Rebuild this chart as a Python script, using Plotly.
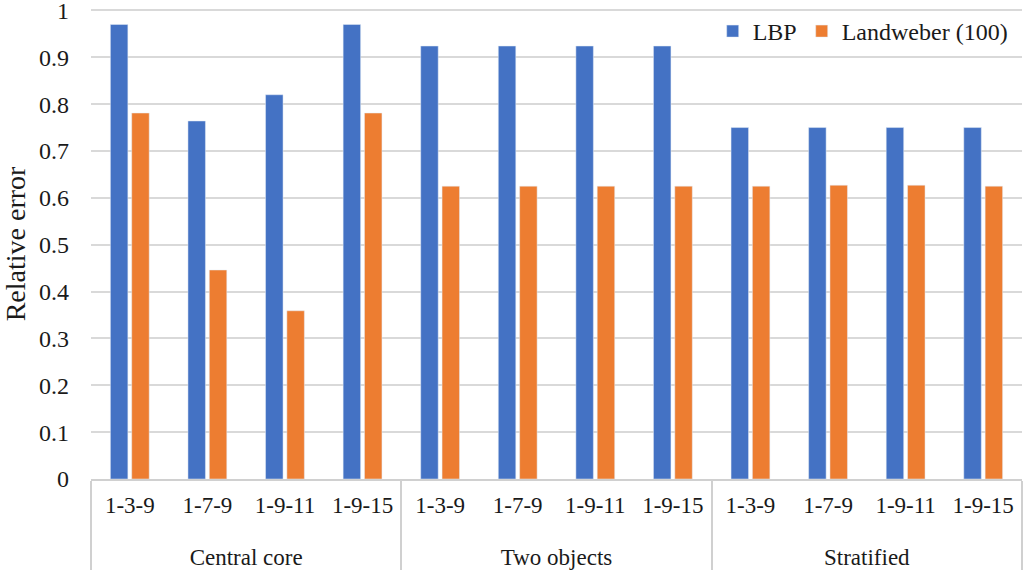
import plotly.graph_objects as go

groups = ["Central core"] * 4 + ["Two objects"] * 4 + ["Stratified"] * 4
configs = ["1-3-9", "1-7-9", "1-9-11", "1-9-15"] * 3

lbp = [0.970, 0.764, 0.820, 0.970,
       0.924, 0.924, 0.924, 0.924,
       0.750, 0.750, 0.750, 0.750]
landweber = [0.781, 0.446, 0.359, 0.781,
             0.625, 0.625, 0.625, 0.625,
             0.625, 0.627, 0.627, 0.625]

serif = "Liberation Serif, Times New Roman, serif"

# leading <br> drops the group names a line below the config labels
group_labels = ["<br>" + g for g in groups]

fig = go.Figure()
fig.add_trace(go.Bar(x=[group_labels, configs], y=lbp, name="LBP",
                     marker=dict(color="#4472C4")))
fig.add_trace(go.Bar(x=[group_labels, configs], y=landweber, name="Landweber (100)",
                     marker=dict(color="#ED7D31")))

fig.update_layout(
    width=1025, height=570,
    margin=dict(l=91, r=3, t=9, b=91),
    paper_bgcolor="white", plot_bgcolor="white",
    barmode="group", bargap=0.45, bargroupgap=0.18,
    font=dict(family=serif, size=24, color="#1a1a1a"),
    showlegend=True,
    legend=dict(orientation="h", x=0.99, y=1.0, xanchor="right", yanchor="top",
                font=dict(size=24), bgcolor="rgba(0,0,0,0)", itemwidth=30),
)
fig.update_yaxes(
    range=[0, 1.003], dtick=0.1, automargin=False,
    showgrid=True, gridcolor="#d9d9d9", gridwidth=1.5,
    zeroline=False, showline=False,
    ticks="", ticklabelstandoff=21, ticklabeloverflow="allow",
    title=dict(text="Relative error", font=dict(size=28), standoff=10),
)
fig.update_xaxes(
    showline=True, linecolor="#d0d0d0", linewidth=1.5,
    showdividers=True, dividercolor="#d0d0d0", dividerwidth=1.5,
    ticks="", ticklabelstandoff=5, automargin=False,
    tickfont=dict(size=23),
    showgrid=False,
)

# drop the default 8px page margin so the figure sits at the window corner
fig.write_html("out.html", config={"displayModeBar": False},
               post_script="document.body.style.margin='0';")
